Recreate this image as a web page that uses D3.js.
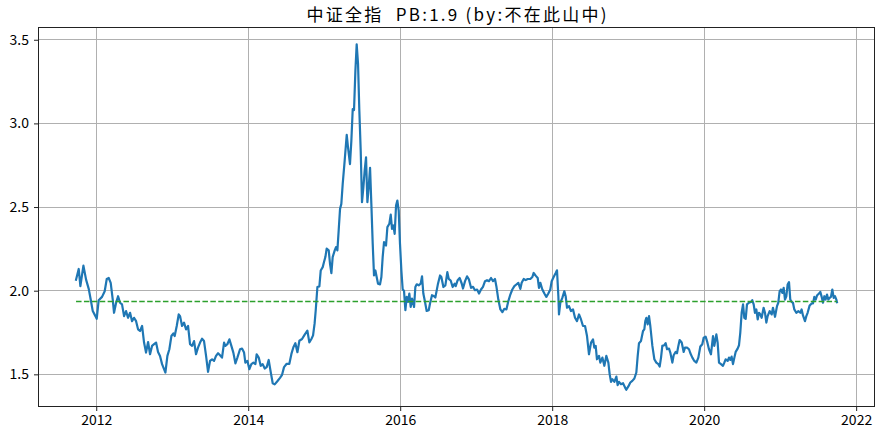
<!DOCTYPE html>
<html><head><meta charset="utf-8">
<script src="https://cdn.jsdelivr.net/npm/d3@7"></script>
<style>body{margin:0;background:#fff} svg{display:block}</style>
</head><body><svg id="chart" width="880" height="433"></svg>
<script>
const titleText = "中证全指  PB:1.9 (by:不在此山中)";

// time as decimal year
const years = [
2011.741, 2011.776, 2011.798, 2011.838, 2011.873, 2011.908, 2011.934, 2011.961, 2011.996, 2012.013,
2012.039, 2012.083, 2012.118, 2012.145, 2012.171, 2012.197, 2012.224, 2012.241, 2012.268, 2012.294,
2012.320, 2012.346, 2012.373, 2012.399, 2012.425, 2012.452, 2012.478, 2012.504, 2012.531, 2012.557,
2012.583, 2012.610, 2012.636, 2012.662, 2012.689, 2012.715, 2012.741, 2012.768, 2012.794, 2012.820,
2012.846, 2012.873, 2012.899, 2012.917, 2012.943, 2012.969, 2012.996, 2013.022, 2013.039, 2013.066,
2013.092, 2013.110, 2013.136, 2013.162, 2013.189, 2013.215, 2013.241, 2013.268, 2013.294, 2013.320,
2013.346, 2013.373, 2013.399, 2013.425, 2013.452, 2013.478, 2013.504, 2013.531, 2013.557, 2013.583,
2013.610, 2013.636, 2013.662, 2013.689, 2013.706, 2013.732, 2013.759, 2013.785, 2013.811, 2013.838,
2013.864, 2013.899, 2013.925, 2013.952, 2013.969, 2013.996, 2014.022, 2014.048, 2014.075, 2014.101,
2014.118, 2014.145, 2014.171, 2014.197, 2014.224,
2014.250, 2014.276, 2014.303, 2014.329, 2014.355, 2014.390, 2014.425, 2014.452, 2014.478, 2014.513,
2014.548, 2014.575, 2014.601, 2014.627, 2014.654, 2014.680, 2014.715, 2014.750, 2014.785, 2014.811,
2014.838, 2014.860, 2014.880,
2014.895, 2014.917, 2014.943, 2014.961, 2014.987, 2015.004, 2015.022, 2015.039, 2015.066, 2015.083,
2015.101, 2015.118, 2015.145, 2015.162, 2015.180, 2015.197, 2015.215, 2015.232, 2015.250, 2015.276,
2015.303, 2015.320, 2015.346, 2015.364, 2015.382, 2015.399, 2015.417, 2015.434, 2015.452, 2015.469,
2015.487, 2015.504, 2015.522, 2015.539, 2015.557, 2015.575, 2015.592, 2015.610, 2015.627, 2015.645,
2015.662, 2015.680, 2015.697, 2015.715, 2015.741, 2015.759, 2015.776, 2015.794, 2015.820, 2015.838,
2015.864, 2015.882, 2015.899, 2015.917, 2015.934, 2015.952, 2015.969, 2015.987, 2016.004, 2016.022,
2016.039, 2016.057, 2016.075, 2016.092, 2016.110, 2016.127, 2016.145, 2016.162, 2016.189, 2016.206,
2016.224, 2016.250, 2016.276, 2016.294, 2016.311, 2016.329, 2016.355, 2016.382, 2016.399, 2016.425,
2016.452, 2016.469, 2016.487, 2016.504, 2016.531, 2016.548, 2016.575, 2016.601, 2016.627, 2016.645,
2016.671, 2016.697, 2016.724,
2016.737, 2016.763, 2016.789, 2016.816, 2016.833, 2016.860, 2016.886, 2016.912, 2016.939, 2016.965,
2016.991, 2017.018, 2017.044, 2017.070, 2017.096, 2017.123, 2017.149, 2017.175, 2017.202, 2017.228,
2017.254, 2017.272, 2017.298, 2017.325, 2017.351, 2017.377, 2017.404, 2017.430, 2017.456, 2017.482,
2017.509, 2017.535, 2017.561, 2017.588, 2017.605, 2017.632, 2017.658, 2017.684, 2017.719, 2017.746,
2017.763, 2017.789, 2017.816, 2017.833, 2017.851, 2017.877, 2017.904, 2017.930, 2017.956, 2017.982,
2018.000, 2018.026, 2018.053, 2018.070, 2018.088, 2018.096, 2018.114, 2018.140, 2018.167, 2018.184,
2018.202, 2018.228, 2018.254, 2018.281, 2018.307, 2018.333, 2018.360, 2018.386, 2018.412, 2018.439,
2018.465, 2018.491, 2018.518, 2018.544, 2018.561, 2018.579, 2018.596, 2018.623, 2018.640, 2018.667,
2018.693, 2018.719, 2018.746, 2018.763, 2018.781, 2018.798, 2018.825, 2018.851, 2018.868, 2018.886,
2018.912, 2018.939, 2018.965, 2018.982, 2019.009, 2019.035, 2019.061, 2019.088, 2019.114, 2019.132,
2019.149, 2019.175, 2019.202, 2019.219, 2019.232,
2019.246, 2019.263, 2019.281, 2019.298, 2019.325, 2019.351, 2019.377, 2019.404, 2019.421, 2019.439,
2019.456, 2019.482, 2019.500, 2019.518, 2019.544, 2019.561, 2019.588, 2019.605, 2019.632, 2019.649,
2019.667, 2019.684, 2019.711, 2019.737, 2019.754, 2019.781, 2019.807, 2019.825, 2019.851, 2019.877,
2019.904, 2019.930, 2019.956, 2019.982, 2020.000, 2020.026, 2020.044, 2020.070, 2020.096, 2020.123,
2020.140, 2020.167, 2020.184, 2020.202, 2020.228, 2020.254, 2020.272, 2020.289, 2020.316, 2020.333,
2020.351, 2020.368, 2020.386, 2020.404, 2020.421, 2020.447, 2020.465, 2020.482, 2020.500, 2020.518,
2020.535, 2020.553, 2020.570, 2020.596, 2020.623, 2020.640, 2020.658, 2020.675, 2020.693, 2020.711,
2020.728, 2020.746, 2020.763, 2020.789, 2020.807, 2020.825, 2020.842, 2020.868, 2020.895, 2020.912,
2020.939, 2020.965, 2020.982, 2021.000, 2021.018, 2021.035, 2021.053, 2021.070, 2021.088, 2021.105,
2021.123, 2021.140, 2021.158, 2021.175, 2021.193, 2021.219, 2021.246, 2021.272, 2021.289, 2021.307,
2021.333, 2021.351, 2021.368, 2021.395, 2021.421, 2021.439, 2021.456, 2021.474, 2021.491, 2021.518,
2021.535, 2021.553, 2021.570, 2021.588, 2021.605, 2021.623, 2021.640, 2021.658, 2021.675, 2021.693,
2021.711, 2021.728, 2021.746, 2021.754
];

const pb = [
2.063, 2.127, 2.024, 2.147, 2.063, 2.008, 1.944, 1.875, 1.845, 1.829,
1.940, 1.960, 1.994, 2.067, 2.073, 2.044, 1.944, 1.865, 1.925, 1.964,
1.925, 1.915, 1.845, 1.875, 1.835, 1.865, 1.815, 1.835, 1.815, 1.766,
1.756, 1.786, 1.687, 1.627, 1.690, 1.617, 1.667, 1.677, 1.687, 1.631,
1.607, 1.558, 1.528, 1.508, 1.607, 1.647, 1.726, 1.742, 1.726, 1.786,
1.855, 1.845, 1.786, 1.806, 1.766, 1.786, 1.677, 1.667, 1.696, 1.617,
1.657, 1.687, 1.710, 1.696, 1.607, 1.512, 1.577, 1.587, 1.577, 1.607,
1.623, 1.611, 1.597, 1.687, 1.667, 1.677, 1.706, 1.667, 1.627, 1.563,
1.597, 1.647, 1.651, 1.627, 1.567, 1.577, 1.528, 1.558, 1.567, 1.558,
1.617, 1.597, 1.548, 1.558, 1.532,
1.540, 1.583, 1.510, 1.444, 1.437, 1.456, 1.476, 1.494, 1.540, 1.560,
1.560, 1.619, 1.659, 1.683, 1.629, 1.698, 1.708, 1.734, 1.758, 1.688,
1.708, 1.730, 1.800,
1.880, 2.019, 2.023, 2.118, 2.138, 2.168, 2.198, 2.248, 2.238, 2.158,
2.102, 2.198, 2.238, 2.258, 2.238, 2.357, 2.486, 2.516, 2.635, 2.774,
2.929, 2.854, 2.754, 2.894, 3.083, 3.077, 3.311, 3.470, 3.351, 3.073,
2.834, 2.526, 2.615, 2.715, 2.794, 2.526, 2.615, 2.731, 2.516, 2.277,
2.088, 2.118, 2.079, 2.039, 2.035, 2.079, 2.198, 2.287, 2.267, 2.377,
2.397, 2.452, 2.367, 2.387, 2.337, 2.506, 2.536, 2.476, 2.277, 2.118,
2.006, 1.996, 1.880, 1.960, 1.930, 1.980, 1.900, 1.950, 1.900, 2.019,
2.035, 2.029, 2.039, 2.083, 1.980, 1.940, 1.876, 1.880, 1.920, 1.970,
1.964, 1.956, 1.999, 2.039, 2.088, 2.079, 2.019, 2.029, 2.108, 2.068,
2.058, 2.019, 2.039,
2.024, 2.060, 2.073, 2.040, 2.010, 2.054, 2.083, 2.063, 2.014, 2.020,
2.000, 2.004, 1.980, 2.004, 2.020, 2.054, 2.060, 2.054, 2.073, 2.054,
2.067, 2.024, 1.944, 1.885, 1.869, 1.889, 1.885, 1.935, 1.974, 2.004,
2.024, 2.034, 2.044, 2.008, 2.044, 2.067, 2.060, 2.067, 2.067, 2.079,
2.103, 2.087, 2.073, 2.014, 2.044, 2.004, 1.980, 1.960, 1.980, 2.004,
2.054, 2.079, 2.103, 2.119, 1.964, 1.855, 1.925, 1.954, 1.994, 1.964,
1.895, 1.905, 1.875, 1.885, 1.835, 1.815, 1.855, 1.825, 1.786, 1.786,
1.726, 1.617, 1.687, 1.706, 1.657, 1.667, 1.587, 1.607, 1.567, 1.597,
1.548, 1.607, 1.567, 1.498, 1.452, 1.468, 1.452, 1.484, 1.433, 1.452,
1.438, 1.444, 1.419, 1.405, 1.425, 1.448, 1.458, 1.472, 1.508, 1.607,
1.683, 1.696, 1.756, 1.766, 1.815,
1.835, 1.796, 1.845, 1.786, 1.667, 1.587, 1.567, 1.558, 1.544, 1.597,
1.667, 1.671, 1.683, 1.647, 1.651, 1.627, 1.567, 1.611, 1.631, 1.623,
1.667, 1.702, 1.687, 1.631, 1.657, 1.657, 1.647, 1.623, 1.597, 1.577,
1.567, 1.597, 1.663, 1.677, 1.716, 1.722, 1.696, 1.647, 1.617, 1.726,
1.667, 1.736, 1.687, 1.567, 1.558, 1.548, 1.567, 1.587, 1.577, 1.597,
1.583, 1.603, 1.558, 1.597, 1.631, 1.651, 1.671, 1.746, 1.865, 1.915,
1.835, 1.829, 1.915, 1.925, 1.929, 1.940, 1.915, 1.865, 1.885, 1.825,
1.865, 1.855, 1.835, 1.895, 1.865, 1.806, 1.845, 1.875, 1.855, 1.895,
1.841, 1.905, 1.925, 1.994, 2.004, 1.984, 2.014, 1.944, 1.964, 2.034,
2.048, 1.944, 1.929, 1.925, 1.885, 1.865, 1.875, 1.865, 1.885, 1.849,
1.815, 1.845, 1.865, 1.909, 1.921, 1.921, 1.960, 1.944, 1.968, 1.980,
1.990, 1.960, 1.925, 1.964, 1.944, 1.974, 1.944, 1.954, 1.960, 2.004,
1.954, 1.964, 1.944, 1.929
];

const medianPB = 1.932;
const xTickValues = [2012, 2014, 2016, 2018, 2020, 2022];
const xTickLabels = ["2012", "2014", "2016", "2018", "2020", "2022"];
const yTickValues = [1.5, 2.0, 2.5, 3.0, 3.5];
const yTickLabels = ["1.5", "2.0", "2.5", "3.0", "3.5"];

const FONT = "'Noto Sans CJK SC', 'Noto Sans', sans-serif";
const W = 880, H = 433;
const plot = {left: 38, right: 875, top: 27, bottom: 407};

const data = years.map((t, i) => ({t: t, v: pb[i]}));

const xExt = d3.extent(years), yExt = d3.extent(pb);
const xPad = (xExt[1] - xExt[0]) * 0.05, yPad = (yExt[1] - yExt[0]) * 0.05;
const x = d3.scaleLinear().domain([xExt[0] - xPad, xExt[1] + xPad]).range([plot.left, plot.right]);
const y = d3.scaleLinear().domain([yExt[0] - yPad, yExt[1] + yPad]).range([plot.bottom, plot.top]);

const svg = d3.select("#chart");
svg.append("rect").attr("width", W).attr("height", H).attr("fill", "#fff");

// grid
const grid = svg.append("g");
grid.selectAll("line.gx").data(xTickValues).join("line")
  .attr("x1", d => Math.round(x(d)) + 0.5).attr("x2", d => Math.round(x(d)) + 0.5)
  .attr("y1", plot.top).attr("y2", plot.bottom)
  .attr("stroke", "#b0b0b0").attr("stroke-width", 1);
grid.selectAll("line.gy").data(yTickValues).join("line")
  .attr("y1", d => Math.round(y(d)) + 0.5).attr("y2", d => Math.round(y(d)) + 0.5)
  .attr("x1", plot.left).attr("x2", plot.right)
  .attr("stroke", "#b0b0b0").attr("stroke-width", 1);

// series line
const line = d3.line().x(d => x(d.t)).y(d => y(d.v));
svg.append("path").datum(data)
  .attr("d", line).attr("fill", "none")
  .attr("stroke", "#1f77b4").attr("stroke-width", 2.2)
  .attr("stroke-linejoin", "round").attr("stroke-linecap", "square");

// median dashed line
svg.append("line")
  .attr("x1", x(xExt[0])).attr("x2", x(xExt[1]))
  .attr("y1", y(medianPB)).attr("y2", y(medianPB))
  .attr("stroke", "#2ca02c").attr("stroke-width", 1.6)
  .attr("stroke-dasharray", "5.5,2.4");

// frame
svg.append("rect")
  .attr("x", plot.left + 0.5).attr("y", plot.top + 0.5)
  .attr("width", plot.right - plot.left - 1).attr("height", plot.bottom - plot.top - 1)
  .attr("fill", "none").attr("stroke", "#222").attr("stroke-width", 1);

// axes
const xAxis = d3.axisBottom(x).tickValues(xTickValues)
  .tickFormat((d, i) => xTickLabels[i]).tickSize(4).tickPadding(4);
const gx = svg.append("g").attr("transform", `translate(0.5,${plot.bottom})`).call(xAxis);
const yAxis = d3.axisLeft(y).tickValues(yTickValues)
  .tickFormat((d, i) => yTickLabels[i]).tickSize(4).tickPadding(5);
const gy = svg.append("g").attr("transform", `translate(${plot.left},0.5)`).call(yAxis);
[gx, gy].forEach(g => {
  g.select(".domain").remove();
  g.selectAll(".tick line").attr("stroke", "#222");
  g.selectAll(".tick text").attr("fill", "#000")
    .style("font-family", FONT).style("font-size", "14px");
});

// title
svg.append("text")
  .attr("x", (plot.left + plot.right) / 2).attr("y", 21)
  .attr("text-anchor", "middle")
  .attr("textLength", 300).attr("lengthAdjust", "spacing")
  .style("white-space", "pre")
  .style("font-family", FONT).style("font-size", "17px").attr("fill", "#000")
  .text(titleText);
</script>
</body></html>
